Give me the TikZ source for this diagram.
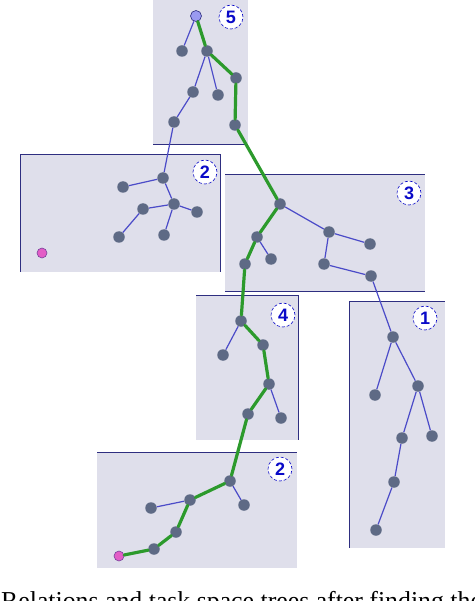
\documentclass[tikz,border=0pt]{standalone}
\usepackage{fontspec}
\setmainfont{Liberation Serif}
\newfontfamily\tagfont{Liberation Sans}
\usepackage{xcolor}
\usepackage{tikz}
\usetikzlibrary{positioning}
\definecolor{panelbg}{HTML}{DFDFEB}
\definecolor{frame}{HTML}{2E2E80}
\definecolor{slate}{HTML}{5E6A85}
\definecolor{edgeblue}{HTML}{4B4BC8}
\definecolor{pathgreen}{HTML}{2C9A2C}
\definecolor{rootblue}{HTML}{9A9AF0}
\definecolor{goalpink}{HTML}{E35DC6}
\definecolor{numblue}{HTML}{0A0AC8}
\tikzset{
  panel/.style={fill=panelbg, draw=none},
  rim/.style={draw=frame, line width=1pt},
  vtx/.style={circle, fill=slate, inner sep=0pt, minimum size=11.5pt},
  root/.style={circle, fill=rootblue, draw=frame, line width=0.6pt, inner sep=0pt, minimum size=11pt},
  goal/.style={circle, fill=goalpink, draw=frame!60!goalpink, line width=0.6pt, inner sep=0pt, minimum size=10pt},
  link/.style={draw=edgeblue, line width=1.2pt},
  route/.style={draw=pathgreen, line width=3.2pt, line cap=round},
  tag/.style={circle, draw=numblue, densely dashed, line width=0.6pt, fill=white, minimum size=24pt, inner sep=0pt, text=numblue, font=\tagfont\bfseries\fontsize{18}{18}\selectfont},
  captext/.style={anchor=base west, inner sep=0pt, font=\fontsize{25.8}{30}\selectfont},
}

\begin{document}
\begin{tikzpicture}[x=1pt, y=-1pt]
\useasboundingbox (0,0) rectangle (474,601);
% panels
\fill[panel] (153,0) rectangle (248,145);
\fill[panel] (20,155) rectangle (220,272);
\fill[panel] (225,175) rectangle (425,291);
\fill[panel] (196,295) rectangle (298,440);
\fill[panel] (349,301) rectangle (445,548);
\fill[panel] (97,452) rectangle (297,568);
\draw[rim] (153,145) -- (248,145);
\draw[rim] (20,272) |- (220,155) -- (220,272);
\draw[rim] (225,175) -- (425,175);
\draw[rim] (225,291) -- (425,291);
\draw[rim] (196,295) -- (298,295) -- (298,440);
\draw[rim] (349,548) |- (445,301);
\draw[rim] (97,452) -- (297,452);

% tree 5
\node[root] (r5) at (196,16) {};
\node[vtx] (v5a) at (182,51) {};
\node[vtx] (v5b) at (207,51) {};
\node[vtx] (v5c) at (193,92) {};
\node[vtx] (v5d) at (218,95) {};
\node[vtx] (v5e) at (236,78) {};
\node[vtx] (v5f) at (174,122) {};
\node[vtx] (v5g) at (235,125) {};
\node[tag] (t5) at (231,17) {5};

% tree 2 (upper)
\node[vtx] (u2a) at (163,178) {};
\node[vtx] (u2b) at (123,187) {};
\node[vtx] (u2c) at (174,204) {};
\node[vtx] (u2d) at (143,209) {};
\node[vtx] (u2e) at (197,212) {};
\node[vtx] (u2f) at (119,237) {};
\node[vtx] (u2g) at (164,235) {};
\node[goal] (g2a) at (42,253) {};
\node[tag] (t2a) at (205,172) {2};

% tree 3
\node[vtx] (v3a) at (280,204) {};
\node[vtx] (v3b) at (257,237) {};
\node[vtx] (v3c) at (271,259) {};
\node[vtx] (v3d) at (245,264) {};
\node[vtx] (v3e) at (329,232) {};
\node[vtx] (v3f) at (370,244) {};
\node[vtx] (v3g) at (324,264) {};
\node[vtx] (v3h) at (371,276) {};
\node[tag] (t3) at (409,193) {3};

% tree 4
\node[vtx] (v4a) at (241,321) {};
\node[vtx] (v4b) at (223,355) {};
\node[vtx] (v4c) at (263,345) {};
\node[vtx] (v4d) at (269,384) {};
\node[vtx] (v4e) at (281,418) {};
\node[vtx] (v4f) at (248,414) {};
\node[tag] (t4) at (283,315) {4};

% tree 1
\node[vtx] (v1a) at (393,337) {};
\node[vtx] (v1b) at (375,395) {};
\node[vtx] (v1c) at (418,386) {};
\node[vtx] (v1d) at (402,438) {};
\node[vtx] (v1e) at (432,436) {};
\node[vtx] (v1f) at (394,482) {};
\node[vtx] (v1g) at (376,530) {};
\node[tag] (t1) at (425,318) {1};

% tree 2 (lower)
\node[vtx] (w2a) at (230,481) {};
\node[vtx] (w2b) at (244,505) {};
\node[vtx] (w2c) at (190,500) {};
\node[vtx] (w2d) at (151,508) {};
\node[vtx] (w2e) at (176,532) {};
\node[vtx] (w2f) at (154,549) {};
\node[goal] (g2b) at (119,556) {};
\node[tag] (t2b) at (280,469) {2};

% tree edges
\draw[link] (r5) -- (v5a);
\draw[link] (v5b) -- (v5c);
\draw[link] (v5b) -- (v5d);
\draw[link] (v5c) -- (v5f);
\draw[link] (v5f) -- (u2a);
\draw[link] (u2a) -- (u2b);
\draw[link] (u2a) -- (u2c);
\draw[link] (u2c) -- (u2d);
\draw[link] (u2c) -- (u2e);
\draw[link] (u2d) -- (u2f);
\draw[link] (u2c) -- (u2g);
\draw[link] (v3b) -- (v3c);
\draw[link] (v3a) -- (v3e);
\draw[link] (v3e) -- (v3f);
\draw[link] (v3e) -- (v3g);
\draw[link] (v3g) -- (v3h);
\draw[link] (v3h) -- (v1a);
\draw[link] (v1a) -- (v1b);
\draw[link] (v1a) -- (v1c);
\draw[link] (v1c) -- (v1d);
\draw[link] (v1c) -- (v1e);
\draw[link] (v1d) -- (v1f);
\draw[link] (v1f) -- (v1g);
\draw[link] (v4a) -- (v4b);
\draw[link] (v4d) -- (v4e);
\draw[link] (w2a) -- (w2b);
\draw[link] (w2c) -- (w2d);

% solution path
\draw[route] (r5) -- (v5b);
\draw[route] (v5b) -- (v5e);
\draw[route] (v5e) -- (v5g);
\draw[route] (v5g) -- (v3a);
\draw[route] (v3a) -- (v3b);
\draw[route] (v3b) -- (v3d);
\draw[route] (v3d) -- (v4a);
\draw[route] (v4a) -- (v4c);
\draw[route] (v4c) -- (v4d);
\draw[route] (v4d) -- (v4f);
\draw[route] (v4f) -- (w2a);
\draw[route] (w2a) -- (w2c);
\draw[route] (w2c) -- (w2e);
\draw[route] (w2e) -- (w2f);
\draw[route] (w2f) -- (g2b);

\node[captext] (caption) at (1,609) {Relations and task space trees after finding the};
\end{tikzpicture}
\end{document}
